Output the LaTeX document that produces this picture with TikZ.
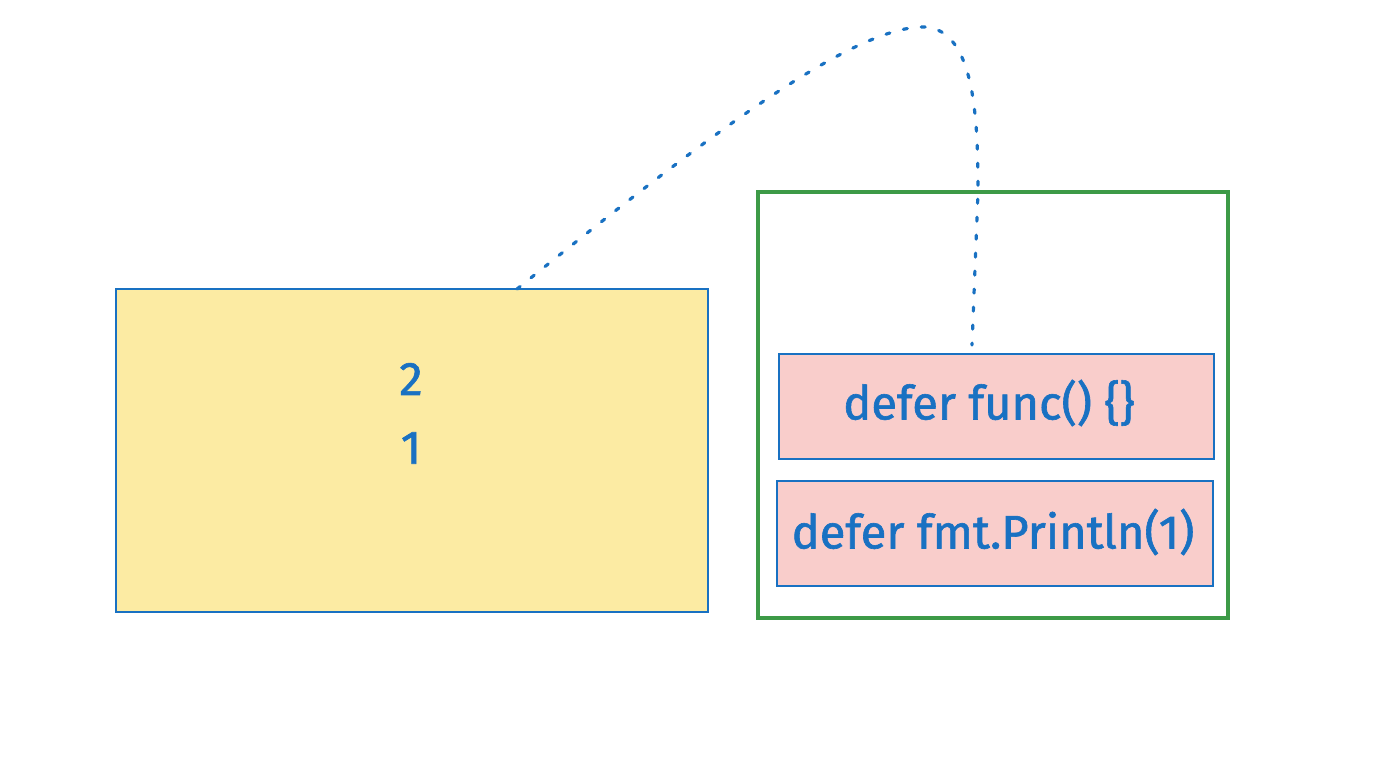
\documentclass[tikz,border=0pt]{standalone}
\usepackage{fontspec}
\setmainfont{Fira Sans}
\newfontfamily\handfont[FakeBold=1.3]{Fira Sans}
\definecolor{exblue}{HTML}{1971C2}
\definecolor{exyellow}{HTML}{FCEBA3}
\definecolor{expink}{HTML}{F9CDCB}
\definecolor{exgreen}{HTML}{3D9A47}
\tikzset{
  box/.style={draw=exblue, line width=1.6pt, inner sep=0pt, outer sep=0pt},
  stackbox/.style={draw=exgreen, line width=4pt, fill=white, inner sep=0pt, outer sep=0pt},
  label/.style={text=exblue, font=\handfont\fontsize{47}{52}\selectfont, inner sep=0pt},
  link/.style={draw=exblue, line width=3.2pt, dash pattern=on 4pt off 14pt, line cap=round}
}
\begin{document}
\begin{tikzpicture}[x=1pt,y=-1pt]
\useasboundingbox (0,0) rectangle (1400,761);
% yellow box
\node[box, fill=exyellow, anchor=north west, minimum width=592pt, minimum height=323pt] (out) at (116,289) {};
\node[label] (two) at (411,379) {2};
\node[label] (one) at (411,448) {1};
% stack
\node[stackbox, anchor=north west, minimum width=470pt, minimum height=426pt] (stack) at (758,192) {};
\node[box, fill=expink, anchor=north west, minimum width=435pt, minimum height=105pt] (f1) at (779,354) {};
\node[label] (t1) at (989,403) {defer func() \{\}};
\node[box, fill=expink, anchor=north west, minimum width=436pt, minimum height=105pt] (f2) at (777,481) {};
\node[label] (t2) at (993,532) {defer fmt.Println(1)};
% link
\coordinate (s) at (out.north -| 517,0);
\coordinate (peak) at (925,27);
\coordinate (e) at (972,345);
\draw[link] (s) .. controls (690,150) and (850,25) .. (peak)
  .. controls (975,30) and (978,120) .. (978,192) -- (e);
\end{tikzpicture}
\end{document}
